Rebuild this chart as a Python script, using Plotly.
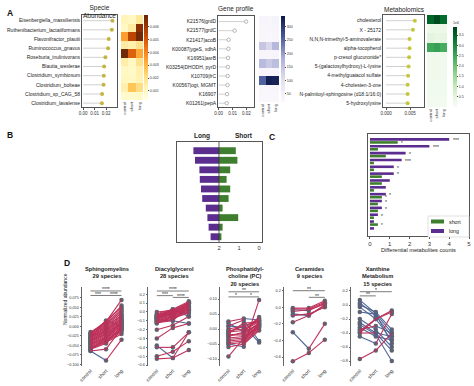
import plotly.graph_objects as go

W, H = 474, 386
FONT = "Arial, Liberation Sans, sans-serif"


def xd(a, b):
    return [a / W, b / W]


def yd(t, b):
    return [1 - b / H, 1 - t / H]


# ---------------- data ----------------
heat_cols = ["control", "short", "long"]

species = ["Eisenbergiella_massiliensis", "Ruthenibacterium_lactatiformans", "Flavonifractor_plautii",
           "Ruminococcus_gnavus", "Roseburia_inulinivorans", "Blautia_wexlerae", "Clostridium_symbiosum",
           "Clostridium_bolteae", "Clostridium_sp_CAG_58", "Clostridium_lavalense"]
species_abund = [0.0255, 0.025, 0.0223, 0.0217, 0.0194, 0.0183, 0.018, 0.0178, 0.0165, 0.0163]
species_heat = [[0.0012, 0.0010, 0.0018], [0.0010, 0.0016, 0.0063], [0.0035, 0.0055, 0.0067],
                [0.0016, 0.0014, 0.0020], [0.0067, 0.0048, 0.0033], [0.0015, 0.0010, 0.0020],
                [0.0010, 0.0009, 0.0014], [0.0011, 0.0010, 0.0013], [0.0014, 0.0027, 0.0021],
                [0.0008, 0.0008, 0.0009]]

genes = ["K21576|grdD", "K21577|grdC", "K21417|acoB", "K00087|ygeS, xdhA", "K16951|asrB",
         "K03254|DHODH, pyrD", "K10709|frC", "K00567|ogt, MGMT", "K16907", "K01261|pepA"]
gene_abund = [0.0198, 0.0115, 0.0072, 0.0070, 0.0068, 0.0066, 0.0065, 0.0064, 0.0060, 0.0058]
gene_heat = [[35, 30, 40], [30, 30, 35], [30, 28, 30], [145, 115, 170], [35, 30, 35],
             [165, 140, 160], [30, 30, 30], [255, 330, 325], [30, 28, 30], [25, 25, 25]]

metabolites = ["cholesterol", "X - 25172", "N,N,N-trimethyl-5-aminovalerate", "alpha-tocopherol",
               "p-cresol glucuronide*", "5-(galactosylhydroxy)-L-lysine", "4-methylguaiacol sulfate",
               "4-cholesten-3-one", "N-palmitoyl-sphingosine (d18:1/16:0)", "5-hydroxylysine"]
metab_abund = [0.0060, 0.0056, 0.0049, 0.0049, 0.0048, 0.0047, 0.0046, 0.0045, 0.0045, 0.0045]
metab_heat = [[3.5, 3.8, 3.4], [0.3, 0.3, 0.3], [0.5, 0.4, 0.45], [2.5, 2.6, 2.4], [0.2, 0.2, 0.2],
              [0.2, 0.2, 0.2], [0.2, 0.2, 0.2], [0.15, 0.15, 0.15], [0.15, 0.15, 0.15], [0.1, 0.1, 0.1]]

symptoms = ["Fibromyalgia or myofascial pain syndrome", "Constipation",
            "High total or LDL (bad) cholesterol or triglycerides", "Underactive thyroid (hypothyroidism)",
            "Primary sleep disorder: sleep apnea, narcolepsy, restless legs", "Overweight/obesity",
            "Hypoglycemia (low blood sugar)", "Poor appetite", "Endometriosis", "Bleeding gums (gingivitis)"]
long_frac = [0.64, 0.60, 0.49, 0.48, 0.45, 0.42, 0.33, 0.29, 0.26, 0.21]
short_frac = [0.42, 0.46, 0.28, 0.19, 0.28, 0.24, 0.09, 0.48, 0.09, 0.06]

classes = ["Sphingomyelins", "Diacylglycerol", "Phosphatidylcholine (PC)", "Ceramides",
           "Xanthine Metabolism", "Histidine Metabolism", "Phosphatidylethanolamine (PE)",
           "Lysine Metabolism", "Dihydrosphingomyelins", "Pyrimidine Metabolism, Cytidine containing",
           "Aminosugar Metabolism", "Dihydroceramides", "Lactosylceramides (LCER)",
           "Drug - Analgesics, Anesthetics"]
long_counts = [20, 15, 9, 8, 6, 6, 5, 4, 4, 3, 3, 2, 1, 1]
short_counts = [7, 2, 4, 1, 1, 3, 3, 1, 3, 2, 2, 1, 2, 0]
long_stars = ["***", "***", "*", "***", "*", "*", "", "", "*", "*", "*", "*", "", ""]
short_stars = ["*", "", "", "", "", "", "", "", "*", "", "", "", "*", ""]
legend_labels = ["short", "long"]

groups = ["control", "short", "long"]
sphingomyelins = [[-0.015, 0.012, 0.070], [-0.018, 0.010, 0.055], [-0.020, 0.015, 0.050],
                  [-0.022, 0.008, 0.045], [-0.025, 0.005, 0.040], [-0.025, 0.002, 0.035],
                  [-0.028, -0.002, 0.030], [-0.030, 0.000, 0.028], [-0.030, -0.005, 0.025],
                  [-0.032, -0.008, 0.022], [-0.035, -0.010, 0.020], [-0.035, -0.012, 0.018],
                  [-0.038, -0.015, 0.015], [-0.040, -0.018, 0.012], [-0.040, -0.020, 0.010],
                  [-0.042, -0.022, 0.008], [-0.045, -0.025, 0.005], [-0.045, -0.028, 0.002],
                  [-0.048, -0.030, 0.000], [-0.050, -0.032, -0.005], [-0.052, -0.035, -0.008],
                  [-0.055, -0.038, -0.010], [-0.055, -0.040, -0.015], [-0.058, -0.042, -0.020],
                  [-0.060, -0.045, 0.000], [-0.062, -0.030, 0.010], [-0.065, -0.060, -0.005],
                  [-0.065, -0.090, -0.035], [-0.030, 0.015, 0.002]]
diacylglycerol = [[-0.02, 0.03, 0.12], [-0.03, 0.02, 0.11], [-0.04, 0.02, 0.10], [-0.05, 0.01, 0.09],
                  [-0.05, 0.00, 0.08], [-0.06, 0.00, 0.07], [-0.07, -0.01, 0.06], [-0.07, -0.02, 0.05],
                  [-0.08, -0.02, 0.04], [-0.08, -0.03, 0.03], [-0.09, -0.04, 0.02], [-0.10, -0.05, 0.01],
                  [-0.10, -0.06, 0.00], [-0.11, -0.07, -0.01], [-0.12, -0.08, 0.05], [-0.13, -0.05, 0.08],
                  [-0.00, 0.02, -0.02], [-0.06, 0.03, -0.05], [-0.09, -0.10, 0.06], [-0.04, -0.02, 0.10],
                  [-0.20, -0.15, -0.05], [-0.30, -0.18, -0.13], [-0.38, -0.52, -0.23], [-0.40, -0.40, -0.23],
                  [-0.50, -0.45, -0.33], [-0.53, -0.52, -0.43], [-0.12, -0.10, -0.13], [-0.07, 0.00, 0.07]]
phosphatidylcholine = [[0.025, 0.035, 0.030], [0.020, -0.010, 0.040], [0.010, 0.005, 0.035],
                       [0.000, 0.010, 0.030], [-0.005, 0.000, 0.028], [-0.010, -0.005, 0.025],
                       [-0.015, 0.020, 0.022], [-0.020, -0.015, 0.020], [-0.020, -0.020, 0.018],
                       [-0.025, -0.010, 0.015], [-0.030, -0.025, 0.012], [-0.035, -0.030, 0.010],
                       [-0.040, -0.035, 0.008], [-0.045, -0.040, 0.005], [-0.050, -0.045, 0.000],
                       [-0.050, -0.059, 0.097], [0.010, 0.030, -0.040], [-0.010, 0.010, -0.045],
                       [-0.060, -0.050, -0.005], [-0.092, -0.030, 0.015]]
ceramides = [[-0.01, -0.01, 0.08], [-0.02, -0.02, 0.06], [-0.03, -0.04, 0.05], [-0.05, -0.03, 0.04],
             [-0.08, -0.10, 0.02], [-0.10, -0.08, 0.00], [-0.18, -0.10, 0.03], [-0.30, -0.50, -0.20],
             [-0.65, -0.55, -0.39]]
xanthine = [[0.07, -0.12, -0.40], [0.03, -0.15, -0.45], [0.00, -0.10, -0.35], [-0.03, -0.20, -0.50],
            [-0.10, -0.13, -0.55], [-0.20, -0.35, -0.60], [-0.25, -0.40, -0.65], [-0.28, -0.42, -0.80],
            [-0.32, -0.45, -0.50], [-0.37, -0.20, -0.10], [-0.40, -0.20, -0.08], [-0.45, -0.55, -0.13],
            [-0.40, -0.40, -0.45], [-0.35, -0.30, -0.40], [-0.77, -0.65, -0.40]]
d_titles = ["Sphingomyelins<br>29 species", "Diacylglycerol<br>28 species",
            "Phosphatidyl-<br>choline (PC)<br>20 species", "Ceramides<br>9 species",
            "Xanthine<br>Metabolism<br>15 species"]

# ---------------- figure ----------------
fig = go.Figure()
layout = dict(width=W, height=H, margin=dict(l=0, r=0, t=0, b=0, autoexpand=False), paper_bgcolor="white",
              plot_bgcolor="white", font=dict(family=FONT, color="#222"), showlegend=False)
annotations = []
shapes = []

AX_LINE = "#555"


def box_axes(n, xdom, ydom, xr, yr, xtickvals=None, xticktext=None, ytickvals=None, yticktext=None,
             yfont=5.0, xfont=4.5, mirror=True):
    layout["xaxis%d" % n] = dict(domain=xdom, range=xr, anchor="y%d" % n, showgrid=False, zeroline=False,
                                 showline=True, mirror=mirror, linecolor=AX_LINE, linewidth=0.8,
                                 tickvals=xtickvals, ticktext=xticktext, ticks="outside", ticklen=2,
                                 tickcolor=AX_LINE, tickwidth=0.6, automargin=False,
                                 tickfont=dict(family=FONT, size=xfont, color="#333"))
    layout["yaxis%d" % n] = dict(domain=ydom, range=yr, anchor="x%d" % n, showgrid=False, zeroline=False,
                                 showline=True, mirror=mirror, linecolor=AX_LINE, linewidth=0.8,
                                 tickvals=ytickvals, ticktext=yticktext, ticks="", automargin=False,
                                 tickfont=dict(family=FONT, size=yfont, color="#222"))


def lollipop(n, names, vals, color, xdom, ydom, xr, xtv, xtt, hollow=False):
    idx = list(range(len(names)))
    lx, ly = [], []
    for i, v in zip(idx, vals):
        lx += [0, v, None]
        ly += [i, i, None]
    fig.add_trace(go.Scatter(x=lx, y=ly, mode="lines", line=dict(color="#d0d0d0", width=1),
                             xaxis="x%d" % n, yaxis="y%d" % n, hoverinfo="skip"))
    if hollow:
        mk = dict(size=3.5, color="white", line=dict(color="#999", width=0.7))
    else:
        mk = dict(size=4, color=color, line=dict(width=0))
    fig.add_trace(go.Scatter(x=vals, y=idx, mode="markers", marker=mk, xaxis="x%d" % n, yaxis="y%d" % n))
    box_axes(n, xdom, ydom, xr, [9.42, -0.62], xtv, xtt, idx, names)


def heat(n, z, cs, xdom, ydom, zmin, zmax, cb_x, cb_top, cb_bot, tv, tt, cbtitle=None):
    cb = dict(x=cb_x / W, xanchor="left", xpad=0, ypad=0, thickness=3.5, len=(cb_bot - cb_top) / H,
              lenmode="fraction", y=1 - cb_top / H, yanchor="top", outlinewidth=0, ticks="outside",
              ticklen=1.5, tickwidth=0.5, tickvals=tv, ticktext=tt,
              tickfont=dict(family=FONT, size=3.6, color="#333"))
    if cbtitle:
        cb["title"] = dict(text=cbtitle, side="top", font=dict(family=FONT, size=3.6, color="#333"))
    fig.add_trace(go.Heatmap(z=z, x=[0, 1, 2], y=list(range(len(z))), colorscale=cs, zmin=zmin, zmax=zmax,
                             xaxis="x%d" % n, yaxis="y%d" % n, colorbar=cb, showscale=True))
    layout["xaxis%d" % n] = dict(domain=xdom, range=[-0.5, 2.5], anchor="y%d" % n, showgrid=False,
                                 zeroline=False, showline=False, tickvals=[0, 1, 2], ticktext=heat_cols,
                                 tickangle=-90, ticks="", automargin=False,
                                 tickfont=dict(family=FONT, size=4.3, color="#333"))
    layout["yaxis%d" % n] = dict(domain=ydom, range=[len(z) - 0.5, -0.5], anchor="x%d" % n, showgrid=False,
                                 zeroline=False, showline=False, showticklabels=False, ticks="",
                                 automargin=False)


# Panel A
lollipop(1, species, species_abund, "#c4b443", xd(82, 117), yd(15, 107), [-0.001, 0.0295],
         [0, 0.01, 0.02], ["0.00", "0.01", "0.02"])
heat(2, species_heat, "YlOrBr", xd(121, 143), yd(15, 100), 0.0003, 0.0069, 144, 15, 100,
     [0.001, 0.002, 0.003, 0.004, 0.005, 0.006], ["0.001", "0.002", "0.003", "0.004", "0.005", "0.006"])

lollipop(3, genes, gene_abund, "#ddd", xd(218, 254), yd(16, 107), [-0.0005, 0.0255],
         [0, 0.01, 0.02], ["0.00", "0.01", "0.02"], hollow=True)
gene_cs = [[0, "#fbf9fd"], [0.25, "#e4e0f0"], [0.5, "#aeb2d8"], [0.75, "#4a5c9c"], [1, "#0c1748"]]
heat(4, gene_heat, gene_cs, xd(259, 279), yd(16, 102), 20, 340, 281, 16, 102,
     [50, 100, 150, 200, 250, 300], ["50", "100", "150", "200", "250", "300"])

lollipop(5, metabolites, metab_abund, "#c6c63e", xd(383, 424), yd(15, 107), [-0.000625, 0.0079],
         [0, 0.005], ["0.000", "0.005"])
heat(6, metab_heat, "Greens", xd(427, 447), yd(15, 107), 0.0, 3.9, 453, 18, 107,
     [0.5, 1.0, 1.5, 2.0, 2.5, 3.0, 3.5], ["0.5", "1.0", "1.5", "2.0", "2.5", "3.0", "3.5"], cbtitle="1e6")

annotations += [
    dict(text="Specie<br>Abundance", x=99.5 / W, y=1 - 2 / H, xref="paper", yref="paper", xanchor="center",
         yanchor="top", showarrow=False, font=dict(family=FONT, size=6.5, color="#222")),
    dict(text="Gene profile", x=236 / W, y=1 - 14.5 / H, xref="paper", yref="paper", xanchor="center",
         yanchor="bottom", showarrow=False, font=dict(family=FONT, size=6.5, color="#222")),
    dict(text="Metabolomics", x=404 / W, y=1 - 14.5 / H, xref="paper", yref="paper", xanchor="center",
         yanchor="bottom", showarrow=False, font=dict(family=FONT, size=6.5, color="#222")),
]

# Panel B
PURPLE = "#5a2d8e"
GREEN = "#3f7e2e"
idx_b = list(range(len(symptoms)))
fig.add_trace(go.Bar(x=[-v for v in long_frac], y=idx_b, orientation="h", width=0.72,
                     marker=dict(color=PURPLE, line=dict(width=0)), xaxis="x7", yaxis="y7"))
fig.add_trace(go.Bar(x=short_frac, y=idx_b, orientation="h", width=0.72,
                     marker=dict(color=GREEN, line=dict(width=0)), xaxis="x7", yaxis="y7"))
box_axes(7, xd(177, 262), yd(142, 242), [-1.05, 1.075], [-1, -0.5, 0, 0.5, 1],
         ["1.0", "0.5", "0.0", "0.5", "1.0"], idx_b, symptoms, yfont=5.8, xfont=5.8)
layout["yaxis7"]["range"] = [9.55, -0.91]
layout["xaxis7"]["ticks"] = ""
shapes.append(dict(type="line", xref="x7", yref="y7 domain", x0=0, x1=0, y0=0, y1=1,
                   line=dict(color="#333", width=0.8)))
annotations += [
    dict(text="<b>Long</b>", x=202 / W, y=1 - 136 / H, xref="paper", yref="paper", showarrow=False,
         font=dict(family=FONT, size=6.5, color="#222")),
    dict(text="<b>Short</b>", x=244 / W, y=1 - 136 / H, xref="paper", yref="paper", showarrow=False,
         font=dict(family=FONT, size=6.5, color="#222")),
]

# Panel C
idx_c = list(range(len(classes)))
fig.add_trace(go.Bar(x=short_counts, y=idx_c, orientation="h", width=0.38, offset=0.02, name="short",
                     marker=dict(color=GREEN, line=dict(width=0)), xaxis="x8", yaxis="y8"))
fig.add_trace(go.Bar(x=long_counts, y=idx_c, orientation="h", width=0.38, offset=-0.42, name="long",
                     marker=dict(color=PURPLE, line=dict(width=0)), xaxis="x8", yaxis="y8"))
box_axes(8, xd(368, 469), yd(134, 236), [-0.5, 25], [0, 5, 10, 15, 20, 25],
         ["0", "5", "10", "15", "20", "25"], idx_c, classes, yfont=4.6, xfont=6)
layout["yaxis8"]["range"] = [13.88, -1.02]
layout["xaxis8"]["title"] = dict(text="Differential metabolites counts", standoff=1,
                                 font=dict(family=FONT, size=5.6, color="#222"))
for i in idx_c:
    if long_stars[i]:
        annotations.append(dict(text=long_stars[i], x=long_counts[i], y=i - 0.23, xref="x8", yref="y8",
                                xanchor="left", xshift=1.5, yshift=-0.8, showarrow=False,
                                font=dict(family=FONT, size=5, color="#222")))
    if short_stars[i]:
        annotations.append(dict(text=short_stars[i], x=short_counts[i], y=i + 0.21, xref="x8", yref="y8",
                                xanchor="left", xshift=1.5, yshift=-0.8, showarrow=False,
                                font=dict(family=FONT, size=4.5, color="#222")))
# custom legend box for panel C
shapes.append(dict(type="rect", xref="paper", yref="paper", x0=428 / W, x1=469 / W, y0=1 - 237 / H,
                   y1=1 - 216 / H, line=dict(color="#ccc", width=0.6), fillcolor="white"))
for j, (lab, col) in enumerate(zip(legend_labels, [GREEN, PURPLE])):
    yc = 221.5 + j * 9.5
    shapes.append(dict(type="rect", xref="paper", yref="paper", x0=431 / W, x1=444 / W,
                       y0=1 - (yc + 2) / H, y1=1 - (yc - 2) / H, line=dict(width=0), fillcolor=col))
    annotations.append(dict(text=lab, x=447 / W, y=1 - yc / H, xref="paper", yref="paper", xanchor="left",
                            showarrow=False, font=dict(family=FONT, size=5.3, color="#222")))

# Panel D
RED = "#bd3159"
BLUE = "#4e6494"
DOT = "#60636f"
d_sets = [sphingomyelins, diacylglycerol, phosphatidylcholine, ceramides, xanthine]
d_xdom = [(82, 128.5), (148, 196), (220, 266), (284, 332), (351, 399)]
d_yr = [[-0.1045, 0.104], [-0.611, 0.2826], [-0.1233, 0.14], [-0.708, 0.2446], [-0.871, 0.257]]
d_tv = [[-0.1, -0.075, -0.05, -0.025, 0, 0.025, 0.05, 0.075],
        [-0.6, -0.5, -0.4, -0.3, -0.2, -0.1, 0, 0.1, 0.2],
        [-0.1, -0.05, 0, 0.05, 0.1],
        [-0.6, -0.4, -0.2, 0, 0.2],
        [-0.8, -0.6, -0.4, -0.2, 0, 0.2]]
d_fmt = [".3f", ".1f", ".2f", ".1f", ".1f"]
d_sig = [[(0, 2, 0.0935, "****"), (0, 1, 0.0816, "***"), (1, 2, 0.0816, "****")],
         [(0, 2, 0.237, "****"), (0, 1, 0.185, "***"), (1, 2, 0.165, "****")],
         [(0, 2, 0.124, "**"), (0, 1, 0.107, "*"), (1, 2, 0.107, "*")],
         [(0, 2, 0.2, "**"), (1, 2, 0.12, "**")],
         [(0, 2, 0.19, "*"), (0, 1, 0.13, "**")]]

for k, data in enumerate(d_sets):
    n = 9 + k
    xa, ya = "x%d" % n, "y%d" % n
    px, py = [], []
    rx, ry, bx, by = [], [], [], []
    for tri in data:
        for j in range(3):
            px.append(j)
            py.append(tri[j])
        for j in range(2):
            if tri[j + 1] >= tri[j]:
                rx += [j, j + 1, None]
                ry += [tri[j], tri[j + 1], None]
            else:
                bx += [j, j + 1, None]
                by += [tri[j], tri[j + 1], None]
    fig.add_trace(go.Scatter(x=px, y=py, mode="markers", marker=dict(size=4.5, color=DOT),
                             xaxis=xa, yaxis=ya))
    fig.add_trace(go.Scatter(x=bx, y=by, mode="lines", line=dict(color=BLUE, width=1.1),
                             xaxis=xa, yaxis=ya))
    fig.add_trace(go.Scatter(x=rx, y=ry, mode="lines", line=dict(color=RED, width=1.1),
                             xaxis=xa, yaxis=ya))
    a, b = d_xdom[k]
    layout["xaxis%d" % n] = dict(domain=xd(a, b), range=[-0.55, 2.45], anchor=ya, showgrid=False,
                                 zeroline=False, showline=False, tickvals=[0, 1, 2], ticktext=groups,
                                 tickangle=-45, ticks="", automargin=False,
                                 tickfont=dict(family=FONT, size=5, color="#333"))
    layout["yaxis%d" % n] = dict(domain=yd(287, 366), range=d_yr[k], anchor=xa, showgrid=False,
                                 zeroline=False, showline=True, linecolor="#666", linewidth=0.9,
                                 tickvals=d_tv[k], tickformat=d_fmt[k], ticks="outside", ticklen=1.5,
                                 tickcolor="#666", tickwidth=0.5, automargin=False,
                                 tickfont=dict(family=FONT, size=3.8, color="#333"))
    for (x0, x1, yv, txt) in d_sig[k]:
        shapes.append(dict(type="line", xref=xa, yref=ya, x0=x0, x1=x1, y0=yv, y1=yv,
                           line=dict(color="#444", width=0.7)))
        annotations.append(dict(text=txt, x=(x0 + x1) / 2, y=yv, xref=xa, yref=ya, yanchor="bottom",
                                yshift=-3.2, showarrow=False, font=dict(family=FONT, size=5, color="#222")))
    annotations.append(dict(text="<b>%s</b>" % d_titles[k], x=(a + b) / 2 / W + 2 / W, y=1 - 264 / H,
                            xref="paper", yref="paper", xanchor="center", yanchor="top", showarrow=False,
                            font=dict(family=FONT, size=5.7, color="#222")))

annotations.append(dict(text="Normalized abundance", x=60 / W, y=1 - 327 / H, xref="paper", yref="paper",
                        textangle=-90, showarrow=False, font=dict(family=FONT, size=5, color="#222")))

# panel letters
for L, xx, yy in [("A", 5, 6), ("B", 5, 135), ("C", 272, 137), ("D", 62, 270)]:
    annotations.append(dict(text="<b>%s</b>" % L, x=xx / W, y=1 - yy / H, xref="paper", yref="paper",
                            showarrow=False, font=dict(family=FONT, size=8.5, color="#111")))

layout["annotations"] = annotations
layout["shapes"] = shapes
layout["barmode"] = "overlay"
fig.update_layout(**layout)
fig.write_html("out.html", config={"displayModeBar": False},
               post_script="document.body.style.margin='0';document.body.style.padding='0';")
